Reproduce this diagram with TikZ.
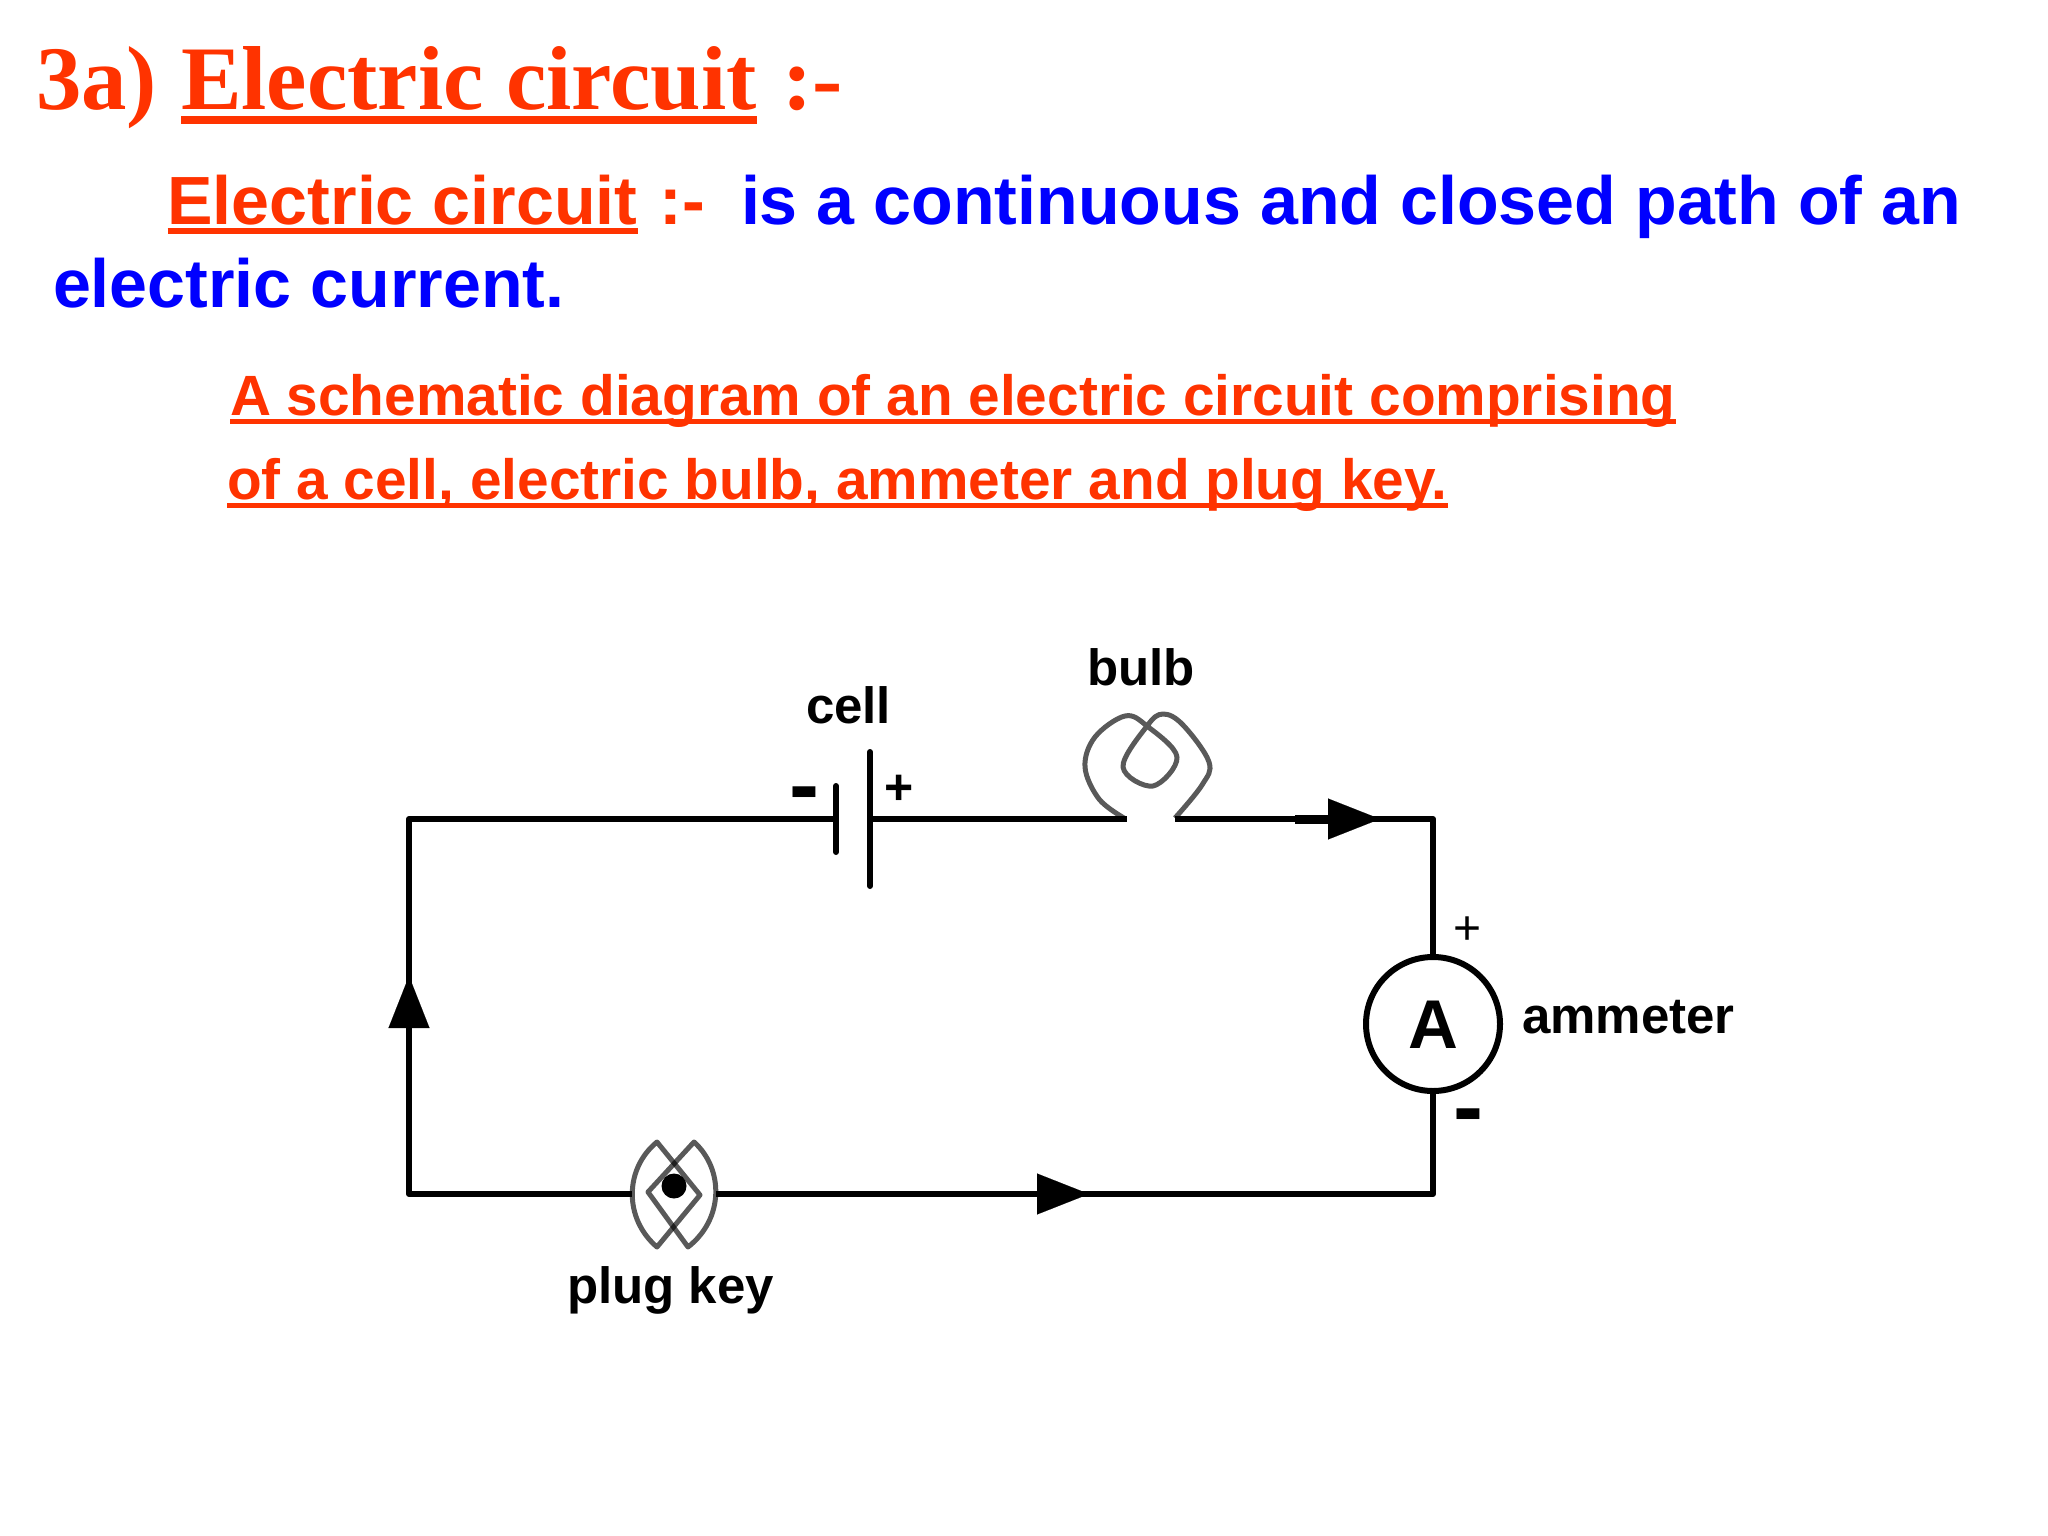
\documentclass[tikz,border=0pt]{standalone}
\usepackage{fontspec}
\setmainfont{Liberation Sans}
\newfontfamily\headfont{Liberation Serif}
\usetikzlibrary{positioning,arrows.meta}
\definecolor{hotred}{rgb}{1, 0.2, 0}
\definecolor{deepblue}{rgb}{0, 0, 1}
\tikzset{%
    wire/.style={line width=6pt,black,line join=round},
    flow/.style={line width=.1pt,-{Triangle[length=52pt,width=41pt]}},
    coil/.style={line width=5pt,black,opacity=.65,line join=round},
    plate/.style={line width=6pt,line cap=round},
    txt/.style={inner sep=0pt,outer sep=0pt,anchor=base west},
    title/.style={txt,hotred,font=\headfont\bfseries\fontsize{90.8}{90}\selectfont},
    redbig/.style={txt,hotred,font=\bfseries\fontsize{68.2}{70}\selectfont},
    bluebig/.style={txt,deepblue,font=\bfseries\fontsize{68.2}{70}\selectfont},
    redmid/.style={txt,hotred,font=\bfseries\fontsize{56.8}{60}\selectfont},
    lbl/.style={txt,font=\bfseries\fontsize{51}{51}\selectfont},
    pics/bulb/.style={code={%
            \coordinate (-in) at (-24,0);
            \coordinate (-out) at (24,0);
            % filament
            \draw[coil] plot[smooth,tension=.6] coordinates {(-27,-1) (-52,-20) (-66,-52) (-56,-82) (-26,-103) (-4,-93) (26,-62) (2,-33) (-28,-52) (-4,-93) (12,-105) (32,-94) (58,-57) (51,-34) (24,-1)};
        }},
    pics/plugkey/.style={code={%
            \coordinate (-in) at (-42,0);
            \coordinate (-out) at (42,0);
            % two halves
            \draw[coil] (-17,-52) .. controls (-50,-25) and (-50,25) .. (-17,53) -- (26,1) -- cycle;
            \draw[coil] (20,-52) -- (-26,-2) -- (14,53) .. controls (50,25) and (50,-25) .. cycle;
            % the plug
            \fill (0,-8) circle (12.5);
        }},
    pics/cell/.style={code={%
            \coordinate (-neg) at (-17,0);
            \coordinate (-pos) at (17,0);
            % plates
            \draw[plate] (-17,-33) -- (-17,33);
            \draw[plate] (17,-67) -- (17,67);
        }},
}

\begin{document}
\begin{tikzpicture}[x=1pt,y=-1pt]
    \useasboundingbox (0,0) rectangle (2048,1536);

    % heading
    \node[title] (num) at (36,110) {3a)};
    \node[title,base right=24pt of num] (head) {Electric circuit};
    \node[title,base right=26pt of head] (headend) {:-};
    \draw[hotred,line width=8pt] ([yshift=-10pt]head.base west) -- ([yshift=-10pt]head.base east);

    % definition
    \node[redbig] (term) at (167.5,224) {Electric circuit};
    \node[redbig,base right=22pt of term] (termend) {:-};
    \node[bluebig] (defa) at (741,224) {is a continuous and closed path of an};
    \node[bluebig] (defb) at (53,307) {electric current.};
    \draw[hotred,line width=6pt] ([yshift=-7pt]term.base west) -- ([yshift=-7pt]term.base east);

    % caption
    \node[redmid] (capa) at (230,415) {A schematic diagram of an electric circuit comprising};
    \node[redmid] (capb) at (227,499) {of a cell, electric bulb, ammeter and plug key.};
    \draw[hotred,line width=5pt] ([yshift=-6pt]capa.base west) -- ([yshift=-6pt]capa.base east);
    \draw[hotred,line width=5pt] ([yshift=-6pt]capb.base west) -- ([yshift=-6pt]capb.base east);

    % parts of the circuit
    \pic (batt) at (853,819) {cell};
    \pic (lamp) at (1151,819) {bulb};
    \pic (key) at (674,1194) {plugkey};
    \node[circle,draw,line width=6pt,inner sep=0pt,minimum size=134pt,text height=49pt,text depth=0pt,font=\bfseries\fontsize{69}{69}\selectfont] (amm) at (1433,1024) {A};

    % corners and arrow tips
    \coordinate (nw) at (409,819);
    \coordinate (ne) at (1433,819);
    \coordinate (se) at (1433,1194);
    \coordinate (sw) at (409,1194);
    \coordinate (tiptop) at (1380,819);
    \coordinate (stub) at (1295,819);
    \coordinate (tipbot) at (1089,1194);
    \coordinate (tipleft) at (409,976);

    % wires
    \draw[wire] (key-in) -- (sw) -- (nw) -- (batt-neg);
    \draw[wire] (batt-pos) -- (lamp-in);
    \draw[wire] (lamp-out) -- (ne) -- (amm.north);
    \draw[wire] (amm.south) -- (se) -- (key-out);

    % arrow heads
    \draw[line width=9pt] (stub) -- ++(35,0);
    \draw[flow] (stub) -- (tiptop);
    \draw[flow] (key-out) -- (tipbot);
    \draw[flow] (sw) -- (tipleft);

    % labels
    \node[lbl] (cellname) at (806,723) {cell};
    \node[lbl] (bulbname) at (1087,685) {bulb};
    \node[lbl] (ammname) at (1522,1033) {ammeter};
    \node[lbl] (keyname) at (567,1303) {plug key};
    \node[txt,font=\bfseries\fontsize{90}{90}\selectfont] (cellminus) at (789,815) {-};
    \node[txt,font=\bfseries\fontsize{50}{50}\selectfont] (cellplus) at (884,804) {+};
    \node[txt,font=\fontsize{48}{48}\selectfont] (ammplus) at (1453,944) {+};
    \node[txt,font=\bfseries\fontsize{90}{90}\selectfont] (ammminus) at (1453,1137) {-};
\end{tikzpicture}
\end{document}
